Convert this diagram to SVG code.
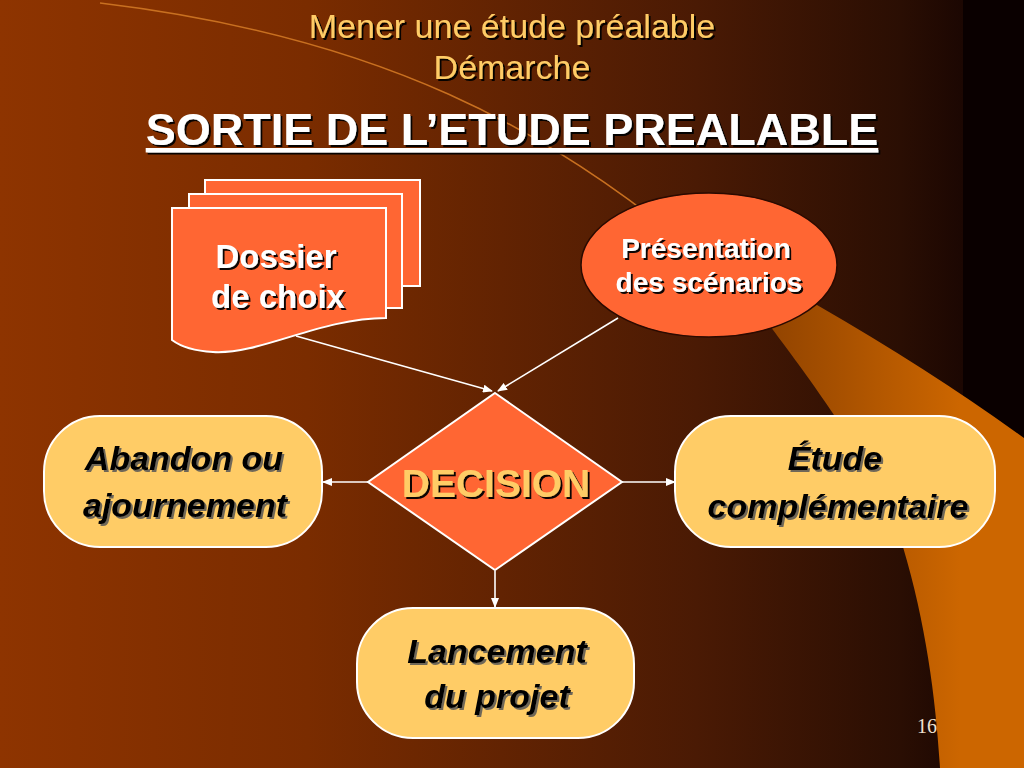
<svg xmlns="http://www.w3.org/2000/svg" width="1024" height="768" viewBox="0 0 1024 768">
  <defs>
    <linearGradient id="bg" gradientUnits="userSpaceOnUse" x1="0" y1="0" x2="1024" y2="0">
      <stop offset="0" stop-color="#8e3400"/>
      <stop offset="0.3" stop-color="#7a2c00"/>
      <stop offset="0.68" stop-color="#4a1a04"/>
      <stop offset="0.88" stop-color="#2a0e03"/>
      <stop offset="0.94" stop-color="#1c0702"/>
      <stop offset="1" stop-color="#1c0702"/>
    </linearGradient>
    <linearGradient id="band" gradientUnits="userSpaceOnUse" x1="760" y1="0" x2="960" y2="0">
      <stop offset="0" stop-color="#8f4200"/>
      <stop offset="1" stop-color="#cc6600"/>
    </linearGradient>
    <filter id="shDark" x="-10%" y="-20%" width="130%" height="150%">
      <feDropShadow dx="2" dy="2" stdDeviation="0.6" flood-color="#000000" flood-opacity="0.95"/>
    </filter>
    <filter id="shGray" x="-10%" y="-20%" width="130%" height="150%">
      <feDropShadow dx="2" dy="2" stdDeviation="0.6" flood-color="#555555" flood-opacity="0.85"/>
    </filter>
    <marker id="arr" markerUnits="userSpaceOnUse" markerWidth="10" markerHeight="8" refX="9" refY="4" orient="auto">
      <path d="M0,0 L10,4 L0,8 Z" fill="#ffffff"/>
    </marker>
    <style>
      .page { fill: #ff6633; stroke: #ffffff; stroke-width: 2; }
      .pill { fill: #ffcc66; stroke: #ffffff; stroke-width: 2; }
      .conn { stroke: #ffffff; stroke-width: 1.6; fill: none; marker-end: url(#arr); }
      .lbl { font-family: "Liberation Sans", Arial, sans-serif; font-weight: bold; text-anchor: middle; }
      .white { fill: #ffffff; filter: url(#shDark); }
      .dark { fill: #000000; font-style: italic; font-size: 34px; filter: url(#shGray); }
    </style>
  </defs>

  <!-- background -->
  <rect x="0" y="0" width="1024" height="768" fill="url(#bg)"/>
  <rect x="963" y="0" width="61" height="768" fill="#0a0000"/>
  <path d="M700,256 L770,326 C800,366 880,470 903,547 C926,624 936,700 940,768 L1024,768 L1024,438 Q930,370 817,305 Z" fill="url(#band)"/>
  <path d="M100,3 C380,36.6 550,128.5 700,256" fill="none" stroke="#c87020" stroke-width="1.5"/>

  <!-- titles -->
  <g id="header">
    <text x="512" y="38" font-family="'Liberation Sans', Arial, sans-serif" font-size="34" fill="#ffcc66" text-anchor="middle" filter="url(#shDark)">Mener une étude préalable</text>
    <text x="512" y="79" font-family="'Liberation Sans', Arial, sans-serif" font-size="34" fill="#ffcc66" text-anchor="middle" filter="url(#shDark)">Démarche</text>
    <text x="512" y="145" font-family="'Liberation Sans', Arial, sans-serif" font-size="45" font-weight="bold" fill="#ffffff" text-anchor="middle" text-decoration="underline" filter="url(#shDark)">SORTIE DE L’ETUDE PREALABLE</text>
  </g>

  <!-- connectors -->
  <g id="connectors">
    <line class="conn" x1="296" y1="336" x2="492" y2="391"/>
    <line class="conn" x1="618" y1="318" x2="498" y2="391"/>
    <line class="conn" x1="368" y1="482" x2="323" y2="482"/>
    <line class="conn" x1="622" y1="482" x2="675" y2="482"/>
    <line class="conn" x1="495" y1="571" x2="495" y2="607"/>
  </g>

  <!-- nodes -->
  <g id="dossier">
    <rect class="page" x="205" y="180" width="215" height="106"/>
    <rect class="page" x="189" y="194" width="213" height="114"/>
    <path class="page" d="M172,208 H386 V318 C320,318 260,355 213,352 C195,351 180,346 172,340 Z"/>
    <text class="lbl white" x="276" y="268" font-size="33">Dossier</text>
    <text class="lbl white" x="278" y="308" font-size="33">de choix</text>
  </g>

  <g id="presentation">
    <ellipse cx="709" cy="265" rx="128" ry="72" fill="#ff6633" stroke="#2a0a00" stroke-width="1.5"/>
    <text class="lbl white" x="706" y="258" font-size="28">Présentation</text>
    <text class="lbl white" x="709" y="292" font-size="28">des scénarios</text>
  </g>

  <g id="decision">
    <path d="M495,393 L622,482 L495,570 L368,482 Z" fill="#ff6633" stroke="#ffffff" stroke-width="2"/>
    <text class="lbl" x="496" y="497" font-size="39" fill="#ffcc66" filter="url(#shDark)">DECISION</text>
  </g>

  <g id="abandon">
    <rect class="pill" x="44" y="416" width="278" height="131" rx="56" ry="56"/>
    <text class="lbl dark" x="184" y="470">Abandon ou</text>
    <text class="lbl dark" x="185" y="517">ajournement</text>
  </g>

  <g id="etude">
    <rect class="pill" x="675" y="416" width="320" height="131" rx="56" ry="56"/>
    <text class="lbl dark" x="835" y="470">Étude</text>
    <text class="lbl dark" x="838" y="518">complémentaire</text>
  </g>

  <g id="lancement">
    <rect class="pill" x="357" y="608" width="277" height="130" rx="56" ry="56"/>
    <text class="lbl dark" x="497" y="663">Lancement</text>
    <text class="lbl dark" x="497" y="708">du projet</text>
  </g>

  <text x="927" y="733" font-family="'Liberation Serif', 'Times New Roman', serif" font-size="20" fill="#f0e0d0" text-anchor="middle">16</text>
</svg>
